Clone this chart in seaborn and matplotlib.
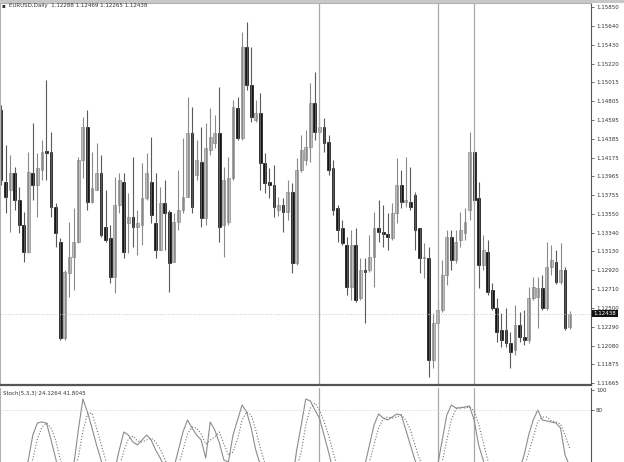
import numpy as np
import pandas as pd
import matplotlib
matplotlib.use('Agg')
import matplotlib.pyplot as plt
import matplotlib.transforms as mtransforms
from matplotlib.patches import Rectangle
import seaborn as sns

sns.set_style('white')
plt.rcParams['font.family'] = ['DejaVu Sans']

# EURUSD daily candles
opens = [1.14704, 1.13902, 1.13813, 1.14003, 1.13702, 1.13424, 1.13123, 1.14003, 1.13869, 1.14036,
         1.14247, 1.14236, 1.13624, 1.13235, 1.12166, 1.12889, 1.13067, 1.13235, 1.14147, 1.14515,
         1.13680, 1.13813, 1.14003, 1.13402, 1.13279, 1.12845, 1.13646, 1.13902, 1.13446, 1.13513,
         1.13402, 1.13424, 1.13724, 1.13902, 1.13446, 1.13145, 1.13669, 1.13568, 1.13012, 1.13457,
         1.13591, 1.13735, 1.14448, 1.13980, 1.14125, 1.13502, 1.14258, 1.14336, 1.14448, 1.13424,
         1.13457, 1.13947, 1.14726, 1.14392, 1.15405, 1.14982, 1.14592, 1.14670, 1.14114, 1.13902,
         1.13869, 1.13591, 1.13646, 1.13568, 1.13791, 1.13001, 1.14036, 1.14147, 1.14292, 1.14782,
         1.14459, 1.14515, 1.14348, 1.14058, 1.13613, 1.13390, 1.13201, 1.12734, 1.13201, 1.12611,
         1.12923, 1.12923, 1.13067, 1.13390, 1.13346, 1.13324, 1.13279, 1.13557, 1.13869, 1.13680,
         1.13680, 1.13758, 1.13390, 1.13056, 1.13056, 1.11921, 1.12333, 1.12477, 1.12867, 1.13290,
         1.13034, 1.13257, 1.13335, 1.13591, 1.14236, 1.13724, 1.12978, 1.13123, 1.12700, 1.12500,
         1.12255, 1.12255, 1.12110, 1.12032, 1.12311, 1.12177, 1.12144, 1.12611, 1.12622, 1.12722,
         1.12500, 1.12956, 1.13012, 1.12789, 1.12923, 1.12288]
highs = [1.14759, 1.14314, 1.14203, 1.14069, 1.13847, 1.13568, 1.14236, 1.14559, 1.14225, 1.14370,
         1.15038, 1.14459, 1.13669, 1.13279, 1.12923, 1.13457, 1.13613, 1.14181, 1.14626, 1.14704,
         1.14236, 1.14336, 1.14203, 1.13813, 1.13424, 1.13958, 1.14003, 1.14003, 1.13780, 1.14181,
         1.13591, 1.14114, 1.14225, 1.14403, 1.14003, 1.13847, 1.13925, 1.13591, 1.13557, 1.14036,
         1.14392, 1.14848, 1.14737, 1.14370, 1.14515, 1.14559, 1.14726, 1.14648, 1.14960, 1.14069,
         1.14181, 1.14815, 1.14848, 1.15572, 1.15683, 1.15405, 1.14815, 1.14893, 1.14225, 1.14058,
         1.14092, 1.13735, 1.13724, 1.13925, 1.13891, 1.14169, 1.14425, 1.14481, 1.15004, 1.15127,
         1.14615, 1.14615, 1.14425, 1.14147, 1.13646, 1.13479, 1.13290, 1.13368, 1.13390, 1.13056,
         1.13056, 1.13312, 1.13568, 1.13702, 1.13646, 1.13557, 1.13669, 1.14169, 1.14036, 1.14181,
         1.14069, 1.13791, 1.13390, 1.13223, 1.13179, 1.12444, 1.12589, 1.13034, 1.13368, 1.13368,
         1.13368, 1.13568, 1.13613, 1.14459, 1.14258, 1.13902, 1.13312, 1.13257, 1.12778, 1.12611,
         1.12444, 1.12500, 1.12233, 1.12533, 1.12455, 1.12477, 1.12734, 1.12845, 1.12845, 1.12867,
         1.13235, 1.13201, 1.13145, 1.13223, 1.12956, 1.12469]
lows = [1.13869, 1.13557, 1.13346, 1.13591, 1.13335, 1.13012, 1.13112, 1.13702, 1.13513, 1.13925,
        1.13925, 1.13513, 1.13179, 1.12144, 1.12144, 1.12622, 1.12700, 1.13223, 1.13947, 1.13591,
        1.13669, 1.13813, 1.13290, 1.13235, 1.12778, 1.12667, 1.13557, 1.13056, 1.13112, 1.13179,
        1.13090, 1.13201, 1.13702, 1.13446, 1.13056, 1.13145, 1.13145, 1.12678, 1.13012, 1.13368,
        1.13557, 1.13735, 1.13557, 1.13925, 1.13402, 1.13424, 1.14203, 1.14281, 1.13235, 1.13067,
        1.13424, 1.13925, 1.14370, 1.14370, 1.14926, 1.14570, 1.14570, 1.13813, 1.13780, 1.13724,
        1.13513, 1.13524, 1.13346, 1.13479, 1.12889, 1.12978, 1.14014, 1.14092, 1.14125, 1.14370,
        1.14425, 1.14236, 1.13980, 1.13535, 1.13235, 1.13201, 1.12645, 1.12589, 1.12567, 1.12589,
        1.12333, 1.12900, 1.12734, 1.13235, 1.13179, 1.13145, 1.13257, 1.13446, 1.13613, 1.13624,
        1.13591, 1.13145, 1.12889, 1.12834, 1.11732, 1.11832, 1.12288, 1.12455, 1.12756, 1.12923,
        1.13001, 1.13179, 1.13257, 1.13479, 1.13646, 1.12722, 1.12923, 1.12645, 1.12477, 1.12122,
        1.12066, 1.12066, 1.11832, 1.11977, 1.12122, 1.12088, 1.12110, 1.12589, 1.12277, 1.12477,
        1.12477, 1.12867, 1.12767, 1.12767, 1.12255, 1.12265]
closes = [1.13925, 1.13735, 1.14003, 1.13702, 1.13424, 1.13123, 1.14014, 1.13869, 1.14058, 1.14236,
          1.14225, 1.13624, 1.13335, 1.12166, 1.12900, 1.13067, 1.13235, 1.14147, 1.14515, 1.13680,
          1.13836, 1.14003, 1.13312, 1.13257, 1.12845, 1.13646, 1.13925, 1.13123, 1.13513, 1.13402,
          1.13446, 1.13724, 1.14003, 1.13535, 1.13145, 1.13669, 1.13557, 1.13001, 1.13457, 1.13591,
          1.13735, 1.14448, 1.13624, 1.14147, 1.13502, 1.14281, 1.14403, 1.14448, 1.13402, 1.13925,
          1.13947, 1.14737, 1.14392, 1.15405, 1.14982, 1.14626, 1.14670, 1.14114, 1.13891, 1.13869,
          1.13624, 1.13646, 1.13568, 1.13791, 1.13001, 1.14036, 1.14258, 1.14292, 1.14782, 1.14459,
          1.14515, 1.14336, 1.14036, 1.13591, 1.13368, 1.13223, 1.12734, 1.13201, 1.12589, 1.12923,
          1.12900, 1.13067, 1.13390, 1.13346, 1.13324, 1.13290, 1.13557, 1.13869, 1.13680, 1.13702,
          1.13624, 1.13368, 1.13056, 1.13067, 1.11921, 1.12333, 1.12477, 1.12867, 1.13290, 1.13034,
          1.13235, 1.13368, 1.13457, 1.14236, 1.13702, 1.12978, 1.13145, 1.12678, 1.12500, 1.12233,
          1.12144, 1.12110, 1.12010, 1.12311, 1.12177, 1.12144, 1.12611, 1.12734, 1.12722, 1.12500,
          1.12956, 1.13034, 1.12789, 1.12923, 1.12277, 1.12438]

# Stochastic(5,3,3): main (%K) and signal (%D)
stoch_main = [20, 15, 22, 18, 12, 8, 30, 55, 67, 68, 67, 50, 32, 10, 12, 15, 25, 60, 91, 78,
              62, 45, 30, 15, 8, 20, 40, 58, 55, 48, 45, 50, 55, 50, 40, 32, 22, 10, 22, 40,
              58, 70, 62, 55, 50, 32, 68, 60, 47, 30, 28, 55, 70, 85, 78, 62, 40, 25, 15, 12,
              8, 10, 12, 18, 8, 40, 65, 91, 89, 80, 72, 55, 38, 20, 12, 8, 5, 12, 8, 15,
              25, 45, 65, 76, 72, 70, 73, 76, 75, 60, 45, 30, 18, 15, 5, 10, 25, 50, 75, 85,
              82, 82, 83, 84, 70, 45, 30, 15, 8, 5, 6, 8, 5, 15, 20, 35, 55, 70, 80, 70,
              69, 68, 67, 62, 35, 24.1264]
stoch_signal = [22, 19, 19, 18, 17, 13, 17, 31, 51, 63, 67, 62, 50, 31, 18, 12, 17, 33, 59, 76,
                77, 62, 46, 30, 18, 14, 23, 39, 51, 54, 49, 48, 50, 52, 48, 41, 31, 21, 18, 24,
                40, 56, 63, 62, 56, 46, 50, 53, 58, 46, 35, 38, 51, 70, 78, 75, 60, 42, 27, 17,
                12, 10, 10, 13, 13, 22, 38, 65, 82, 87, 80, 69, 55, 38, 23, 13, 8, 8, 8, 12,
                16, 28, 45, 62, 71, 73, 72, 73, 75, 70, 60, 45, 31, 21, 13, 10, 13, 28, 50, 70,
                81, 83, 82, 83, 79, 66, 48, 30, 18, 9, 6, 6, 6, 9, 13, 23, 37, 53, 68, 73,
                73, 69, 68, 66, 55, 41.8045]

price_ticks = [1.11665, 1.11875, 1.12080, 1.12290, 1.12500, 1.12710, 1.12920, 1.13130, 1.13340,
               1.13550, 1.13755, 1.13965, 1.14175, 1.14385, 1.14595, 1.14805, 1.15015, 1.15220,
               1.15430, 1.15640, 1.15850]
stoch_ticks = [100, 80]
marked_bars = [71, 97, 105]
bid_price = closes[-1]
header = 'EURUSD,Daily  1.12288 1.12469 1.12265 1.12438'
stoch_label = 'Stoch(5,3,3) 24.1264 41.8045'

df = pd.DataFrame({'bar': np.arange(1, len(opens) + 1), 'open': opens, 'high': highs,
                   'low': lows, 'close': closes, 'k': stoch_main, 'd': stoch_signal})
df['up'] = df['close'] >= df['open']

W, H = 624, 462
fig = plt.figure(figsize=(W / 100, H / 100), dpi=100)
fig.patch.set_facecolor('white')
fig.patches.append(Rectangle((0, 1 - 3 / H), 1, 3 / H, transform=fig.transFigure,
                             facecolor='#c8c8c8', edgecolor='none'))

ax = fig.add_axes([0, 1 - 385 / H, 591 / W, 382 / H])
ax_st = fig.add_axes([0, 0, 591 / W, 74 / H])

up = df[df['up']]
dn = df[~df['up']]
ax.vlines(up['bar'], up['low'], up['high'], colors='#8a8a8a', lw=0.8)
ax.vlines(dn['bar'], dn['low'], dn['high'], colors='#5a5a5a', lw=0.8)
ax.bar(up['bar'], (up['close'] - up['open']).abs(), bottom=up['open'], width=0.62,
       color='#c4c4c4', edgecolor='#8a8a8a', linewidth=0.5)
ax.bar(dn['bar'], (dn['open'] - dn['close']).abs(), bottom=dn['close'], width=0.62,
       color='#111111', edgecolor='#111111', linewidth=0.5)

ax.axhline(bid_price, color='#c8c8c8', ls=':', lw=0.7)
for b in marked_bars:
    ax.axvline(b, color='#a8a8a8', lw=0.9)
    ax_st.axvline(b, color='#a8a8a8', lw=0.9)

ax.set_xlim(0.78, 130.7)
ax.set_ylim(1.11643, 1.15895)
ax.set_xticks([])
ax.yaxis.tick_right()
ax.set_yticks(price_ticks)
ax.set_yticklabels([f'{t:.5f}' for t in price_ticks])
ax.tick_params(axis='y', labelsize=4, length=2, width=0.5, pad=1.5, colors='#333333')
ax.set_xlabel('')
ax.set_ylabel('')
for s in ['left', 'top']:
    ax.spines[s].set_color('#b0b0b0')
    ax.spines[s].set_linewidth(0.8)
ax.spines['right'].set_color('#555555')
ax.spines['right'].set_linewidth(0.8)
ax.spines['bottom'].set_color('#555555')
ax.spines['bottom'].set_linewidth(1.6)
ax.spines['bottom'].set_linestyle((0, (2, 1)))

trans = mtransforms.blended_transform_factory(ax.transAxes, ax.transData)
ax.text(1.004, bid_price, f'{bid_price:.5f}', transform=trans, fontsize=4, color='white',
        ha='left', va='center', clip_on=False,
        bbox=dict(boxstyle='square,pad=0.25', facecolor='#111111', edgecolor='none'))

sns.lineplot(data=df, x='bar', y='k', ax=ax_st, color='#8c8c8c', lw=0.8)
sns.lineplot(data=df, x='bar', y='d', ax=ax_st, color='#707070', lw=0.8, linestyle=':')
ax_st.axhline(80, color='#c8c8c8', ls=':', lw=0.6)
ax_st.set_xlim(0.78, 130.7)
ax_st.set_ylim(28, 102)
ax_st.set_xticks([])
ax_st.yaxis.tick_right()
ax_st.set_yticks(stoch_ticks)
ax_st.set_yticklabels([str(t) for t in stoch_ticks])
ax_st.tick_params(axis='y', labelsize=4, length=2, width=0.5, pad=1.5, colors='#333333')
ax_st.set_xlabel('')
ax_st.set_ylabel('')
ax_st.spines['top'].set_visible(False)
ax_st.spines['bottom'].set_visible(False)
ax_st.spines['left'].set_color('#b0b0b0')
ax_st.spines['right'].set_color('#555555')
ax_st.spines['right'].set_linewidth(0.8)

fig.text(2 / W, 1 - 6 / H, '\u25aa', fontsize=4, color='#333333', va='center')
fig.text(9 / W, 1 - 6 / H, header, fontsize=4, color='#333333', va='center')
fig.text(3 / W, 1 - 393 / H, stoch_label, fontsize=4, color='#333333', va='center')

fig.savefig('out.png', dpi=100)
